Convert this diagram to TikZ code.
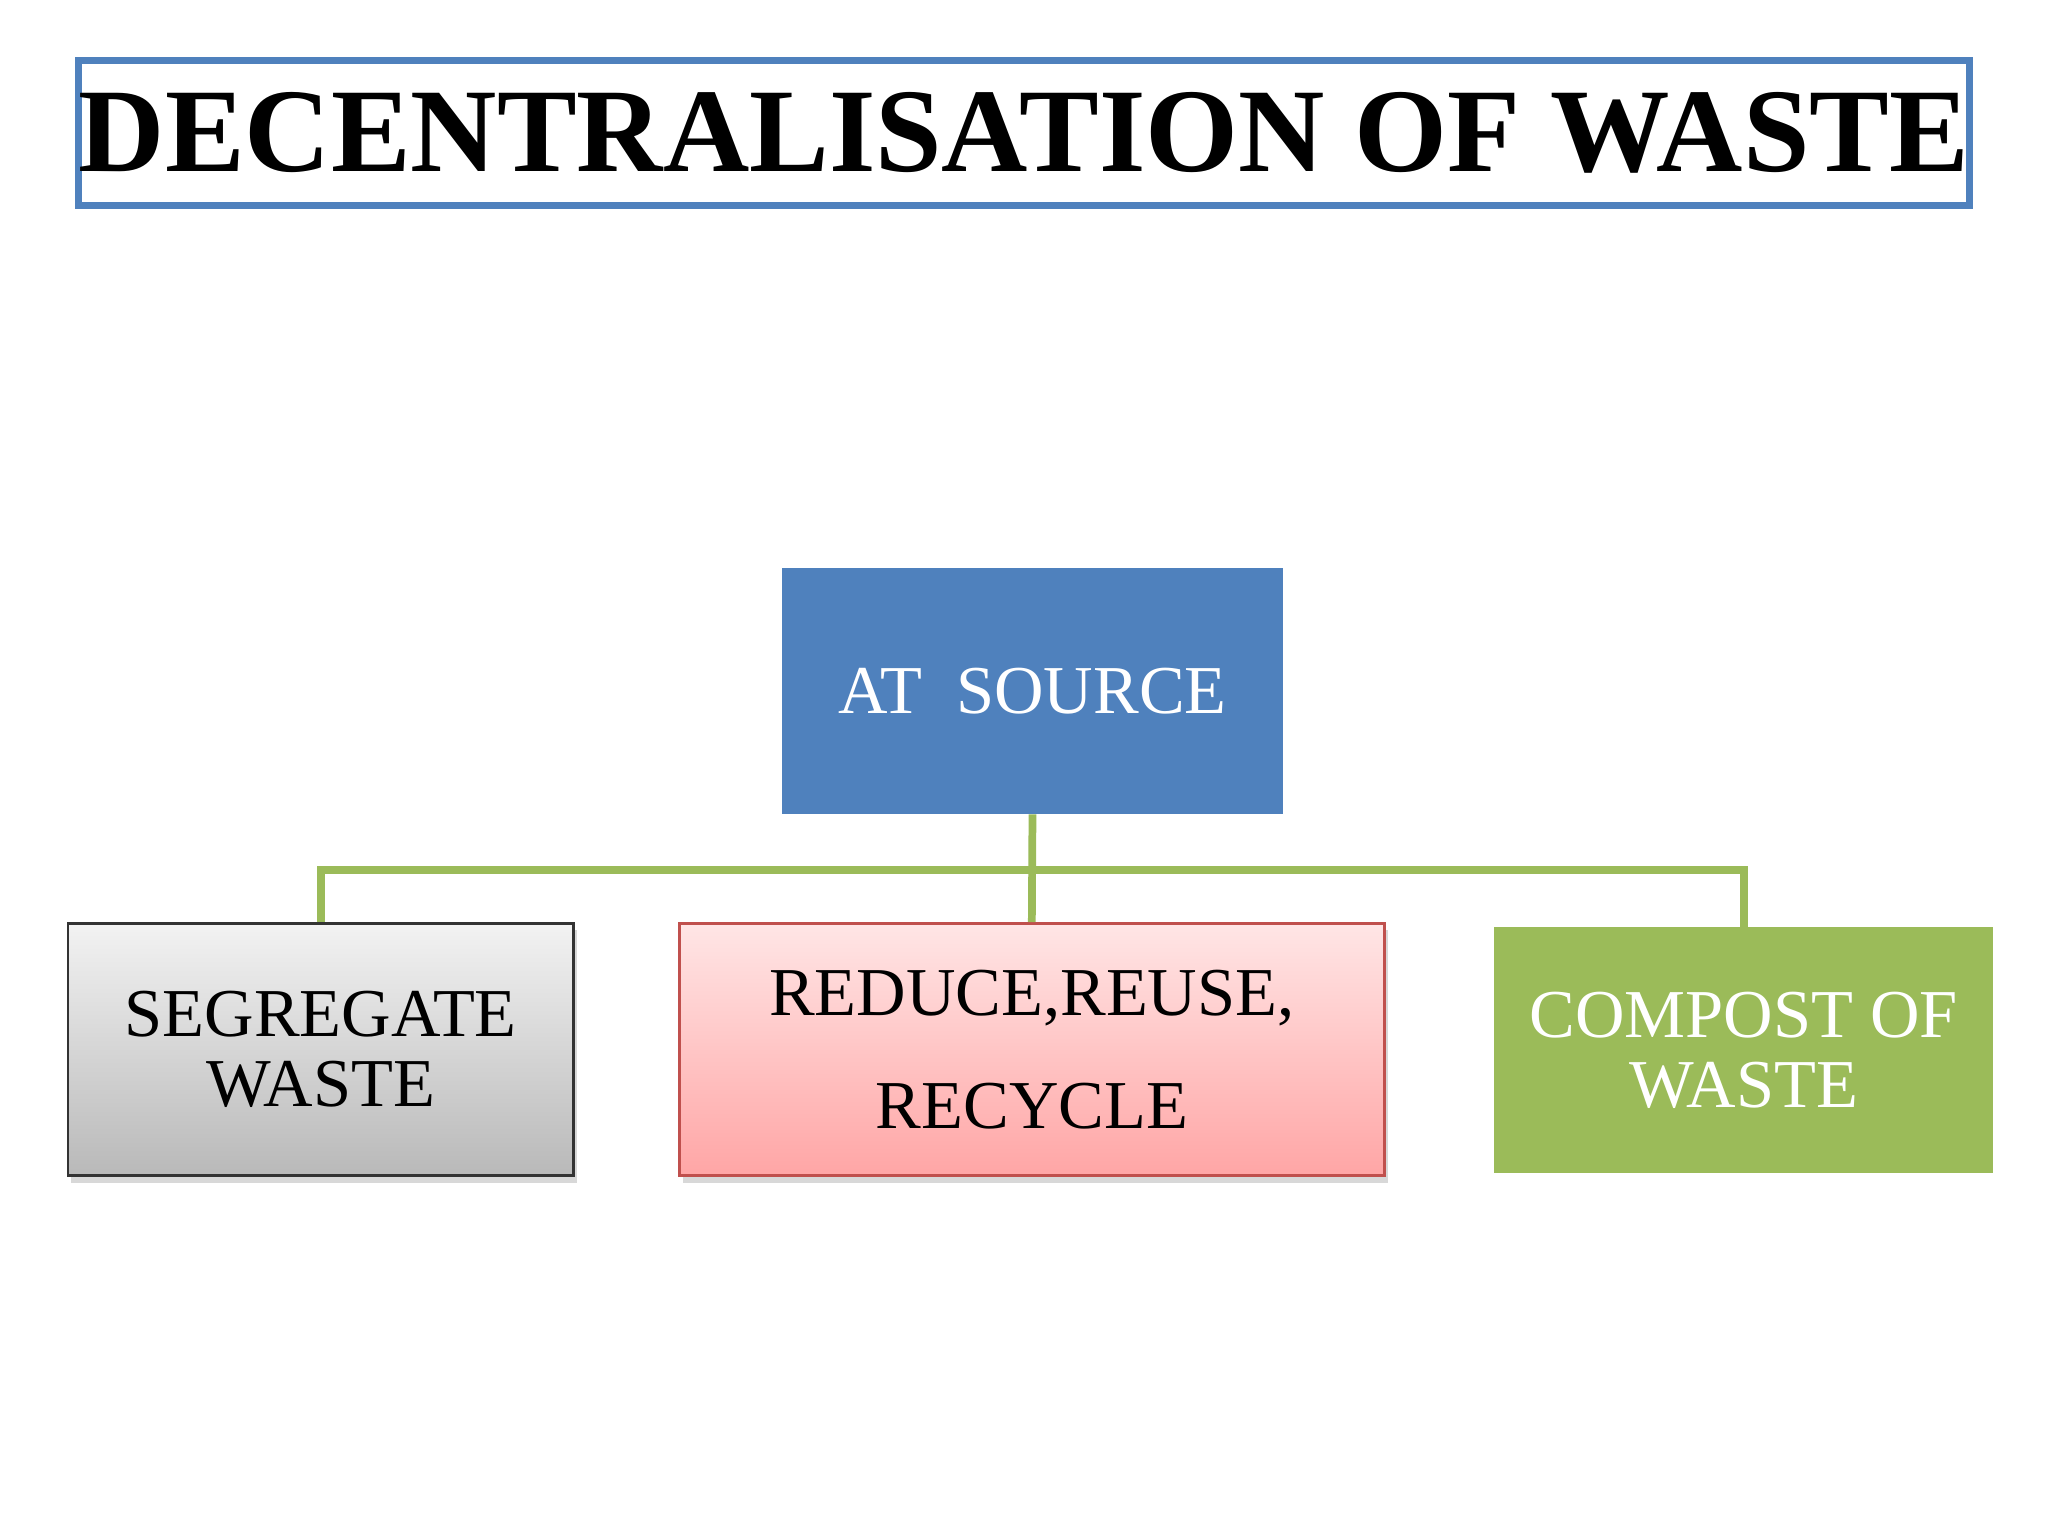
\documentclass[tikz,border=0pt]{standalone}
\usepackage{fontspec}
\setmainfont{Liberation Serif}
\usetikzlibrary{shadows}
\definecolor{tblue}{HTML}{4F81BD}
\definecolor{tgreen}{HTML}{9BBB59}
\definecolor{tred}{HTML}{C0504D}
\begin{document}
\begin{tikzpicture}[x=0.01306cm,y=-0.01306cm,
  box/.style={draw,line width=0.8pt,align=center,inner sep=0pt,font=\fontsize{19.5}{20}\selectfont},
  conn/.style={tgreen,line width=2.2pt}]
\useasboundingbox[fill=white] (0,0) rectangle (1568,1176);
\node[draw=tblue,line width=2pt,inner sep=0pt,minimum width=1412*0.01306cm,minimum height=111*0.01306cm,font=\bfseries\fontsize{34}{40}\selectfont] (title) at (784,101.5) {DECENTRALISATION OF WASTE};
\node[fill=tblue,text=white,inner sep=0pt,minimum width=383*0.01306cm,minimum height=188*0.01306cm,font=\fontsize{19.5}{20}\selectfont] (src) at (790.5,529) {AT\ \ SOURCE};
\node[box,draw=black!80,top color=gray!10,bottom color=gray!55,drop shadow={opacity=0.3,shadow xshift=1pt,shadow yshift=-2pt},minimum width=387*0.01306cm,minimum height=193*0.01306cm] (seg) at (245.5,803.5) {SEGREGATE\\WASTE};
\node[box,draw=tred,top color=red!10,bottom color=red!35,drop shadow={opacity=0.3,shadow xshift=1pt,shadow yshift=-2pt},minimum width=540*0.01306cm,minimum height=193*0.01306cm] (red) at (790,803.5) {REDUCE,REUSE,\\[12pt]RECYCLE};
\node[fill=tgreen,text=white,align=center,inner sep=0pt,font=\fontsize{19.5}{20}\selectfont,minimum width=382*0.01306cm,minimum height=188*0.01306cm] (comp) at (1335,804) {COMPOST OF\\WASTE};
\coordinate (j) at (790,666);
\draw[conn] (src.south) -- (red.north);
\draw[conn] (seg.north) |- (j) -| (comp.north);
\end{tikzpicture}
\end{document}
